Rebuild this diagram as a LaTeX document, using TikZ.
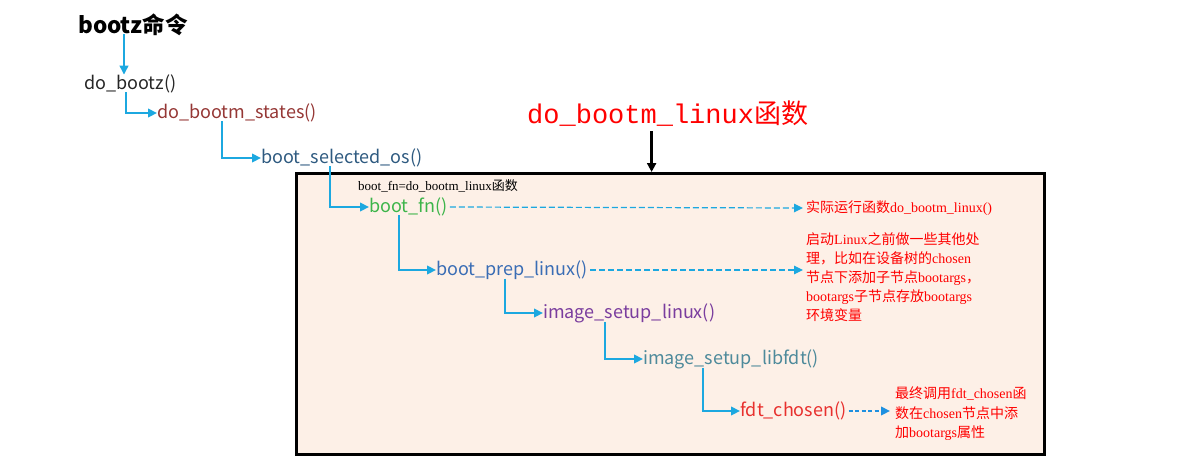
\documentclass[tikz,border=0pt]{standalone}
\usepackage{fontspec}
\setmainfont{Liberation Serif}
\newfontfamily\cjk{Noto Sans CJK SC}
\newfontfamily\monofont{Liberation Mono}
\usetikzlibrary{arrows.meta,calc}
\definecolor{conn}{HTML}{1CA8E0}
\definecolor{dconn}{HTML}{1E90E0}
\definecolor{boxbg}{HTML}{FDF0E7}
\definecolor{cstates}{HTML}{953735}
\definecolor{cselected}{HTML}{2E5A80}
\definecolor{cfn}{HTML}{3DB54A}
\definecolor{cprep}{HTML}{3A6DB5}
\definecolor{csetup}{HTML}{7A3D9E}
\definecolor{clibfdt}{HTML}{4E8A9B}
\definecolor{cchosen}{HTML}{E8302E}
\newcommand\zh[1]{{\cjk #1}}
\begin{document}
\begin{tikzpicture}[x=1pt,y=-1pt,
  fnc/.style={anchor=west, inner sep=0pt, font=\cjk\fontsize{18}{21}\selectfont},
  link/.style={draw=conn, line width=2.6pt, -{Triangle[length=9pt,width=8.5pt]}},
  hint/.style={draw=conn, line width=1.2pt, dash pattern=on 6pt off 3pt, -{Triangle[length=9pt,width=8.5pt]}},
  hintb/.style={draw=dconn, line width=2.2pt, dash pattern=on 4pt off 2.5pt, -{Triangle[length=9pt,width=8.5pt]}},
  note/.style={anchor=north west, inner sep=0pt, text=red, align=left, font=\fontsize{14}{19.2}\selectfont}
]
\useasboundingbox (0,0) rectangle (1202,467);
% frame
\node[draw=black, line width=3pt, fill=boxbg, anchor=north west, inner sep=0pt,
      minimum width=748pt, minimum height=281pt] (frame) at (295,172) {};
% title
\node[anchor=west, inner sep=0pt, text=red, font=\monofont\fontsize{27}{31}\selectfont] (title) at (527,114) {do\_bootm\_linux{\cjk 函数}};
\draw[black, line width=2.4pt, -{Triangle[length=9pt,width=9pt]}] ([xshift=-16pt,yshift=-4pt]title.south) -- ([xshift=-16pt]title.south |- frame.north);
% call chain
\node[anchor=west, inner sep=0pt, font=\cjk\bfseries\fontsize{22.5}{26}\selectfont] (bootz) at (78,25) {bootz命令};
\node[fnc, text=black!85] (dobootz) at (84,84) {do\_bootz()};
\node[fnc, text=cstates] (states) at (157,113) {do\_bootm\_states()};
\node[fnc, text=cselected] (selected) at (261,158) {boot\_selected\_os()};
\node[anchor=west, inner sep=0pt, font=\fontsize{13}{15}\selectfont] (fnlabel) at (358,186) {boot\_fn=do\_bootm\_linux\zh{函数}};
\node[fnc, text=cfn] (bootfn) at (369,207) {boot\_fn()};
\node[fnc, text=cprep] (prep) at (436,270) {boot\_prep\_linux()};
\node[fnc, text=csetup] (setup) at (543,313) {image\_setup\_linux()};
\node[fnc, text=clibfdt] (libfdt) at (643,359) {image\_setup\_libfdt()};
\node[fnc, text=cchosen] (chosen) at (740,411) {fdt\_chosen()};
% notes
\node[anchor=west, inner sep=0pt, text=red, font=\fontsize{14}{16}\selectfont] (note1) at (806,208) {\zh{实际运行函数}do\_bootm\_linux()};
\node[note] (note2) at (806,232) {\zh{启动}Linux\zh{之前做一些其他处}\\\zh{理，比如在设备树的}chosen\\\zh{节点下添加子节点}bootargs\zh{，}\\bootargs\zh{子节点存放}bootargs\\\zh{环境变量}};
\node[note] (note3) at (895,387) {\zh{最终调用}fdt\_chosen\zh{函}\\\zh{数在}chosen\zh{节点中添}\\\zh{加}bootargs\zh{属性}};
% connectors
\draw[link] ([xshift=46pt,yshift=2pt]bootz.south west) -- ([xshift=46pt]bootz.south west |- dobootz.north);
\draw[link] ([xshift=42pt,yshift=1pt]dobootz.south west) |- (states.west);
\draw[link] ([xshift=65pt,yshift=1pt]states.south west) |- (selected.west);
\draw[link] ([xshift=69pt,yshift=1pt]selected.south west) |- (bootfn.west);
\draw[link] ([xshift=30pt,yshift=1pt]bootfn.south west) |- (prep.west);
\draw[link] ([xshift=69pt,yshift=1pt]prep.south west) |- (setup.west);
\draw[link] ([xshift=62pt,yshift=1pt]setup.south west) |- (libfdt.west);
\draw[link] ([xshift=60pt,yshift=1pt]libfdt.south west) |- (chosen.west);
\draw[hint] ([xshift=2pt]bootfn.east) -- ([xshift=-3pt]note1.west);
\draw[hint] ([xshift=2pt]prep.east) -- ([xshift=-3pt]prep.east -| note2.west);
\draw[hintb] ([xshift=2pt]chosen.east) -- ([xshift=-5pt]chosen.east -| note3.west);
\end{tikzpicture}
\end{document}
